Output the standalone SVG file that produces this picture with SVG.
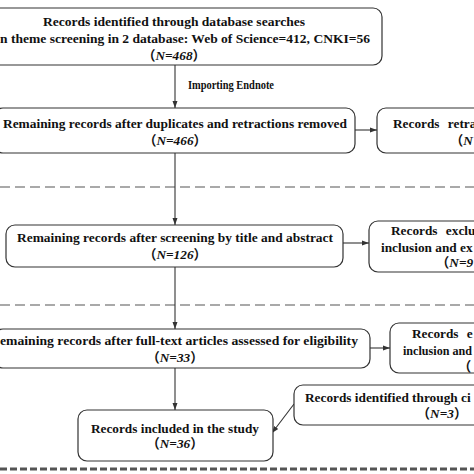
<svg xmlns="http://www.w3.org/2000/svg" width="474" height="474" viewBox="0 0 474 474">
<style>
.box{fill:#fff;stroke:#333;stroke-width:1.2}
.t{font-family:"Liberation Serif","Noto Sans CJK SC",serif;font-weight:bold;font-size:13.3px;fill:#111}
.c{text-anchor:middle}
.i{font-style:italic}
.conn{stroke:#333;stroke-width:1.1;fill:none}
.dash{stroke:#555;stroke-width:1.2;stroke-dasharray:10 5;fill:none}
.dash2{stroke:#555;stroke-width:3;stroke-dasharray:7 3;fill:none}
</style>
<defs>
<marker id="ah" markerWidth="8" markerHeight="8" refX="7" refY="4" orient="auto" markerUnits="userSpaceOnUse">
<path d="M0,1.5 L7,4 L0,6.5 Z" fill="#333"/>
</marker>
</defs>
<rect width="474" height="474" fill="#fff"/>
<g id="separators">
<line class="dash" x1="0" y1="187" x2="474" y2="187"/>
<line class="dash" x1="0" y1="305" x2="474" y2="305"/>
<line class="dash2" x1="0" y1="469" x2="474" y2="469"/>
</g>
<g id="connectors">
<line class="conn" x1="175" y1="65" x2="175" y2="108" marker-end="url(#ah)"/>
<line class="conn" x1="175" y1="153" x2="175" y2="225" marker-end="url(#ah)"/>
<line class="conn" x1="175" y1="267" x2="175" y2="329" marker-end="url(#ah)"/>
<line class="conn" x1="175" y1="368" x2="175" y2="410" marker-end="url(#ah)"/>
<line class="conn" x1="355" y1="130" x2="377" y2="130" marker-end="url(#ah)"/>
<line class="conn" x1="343" y1="243" x2="369" y2="243" marker-end="url(#ah)"/>
<line class="conn" x1="370" y1="348" x2="390" y2="348" marker-end="url(#ah)"/>
<line class="conn" x1="294" y1="404" x2="272" y2="433" marker-end="url(#ah)"/>
<text class="t" x="188" y="89" font-size="10" textLength="86" lengthAdjust="spacingAndGlyphs">Importing Endnote</text>
</g>
<g id="n1">
<rect class="box" x="-10" y="8" width="392" height="57" rx="9"/>
<text class="t c" x="174" y="25.5" textLength="262" lengthAdjust="spacingAndGlyphs">Records identified through database searches</text>
<text class="t" x="0" y="42.5" textLength="370" lengthAdjust="spacingAndGlyphs">n theme screening in 2 database: Web of Science=412, CNKI=56</text>
<text class="t c" x="174" y="59.5">（<tspan class="i">N=468</tspan>）</text>
</g>
<g id="n2">
<rect class="box" x="-6" y="108" width="361" height="45" rx="9"/>
<text class="t c" x="175" y="127.5" textLength="344" lengthAdjust="spacingAndGlyphs">Remaining records after duplicates and retractions removed</text>
<text class="t c" x="175" y="144.5">（<tspan class="i">N=466</tspan>）</text>
</g>
<g id="n3">
<rect class="box" x="377" y="108" width="120" height="45" rx="9"/>
<text class="t" x="393" y="127.5" word-spacing="5">Records retra</text>
<text class="t" x="450" y="144.5">（<tspan class="i">N</tspan></text>
</g>
<g id="n4">
<rect class="box" x="6" y="225" width="337" height="42" rx="9"/>
<text class="t c" x="175" y="242" textLength="316" lengthAdjust="spacingAndGlyphs">Remaining records after screening by title and abstract</text>
<text class="t c" x="175" y="259">（<tspan class="i">N=126</tspan>）</text>
</g>
<g id="n5">
<rect class="box" x="369" y="221" width="130" height="51" rx="9"/>
<text class="t" x="391" y="234.5" word-spacing="5">Records exclu</text>
<text class="t" x="381" y="251.5">inclusion and ex</text>
<text class="t" x="436" y="266.5">（<tspan class="i">N=9</tspan></text>
</g>
<g id="n6">
<rect class="box" x="-6" y="329" width="376" height="39" rx="9"/>
<text class="t" x="0" y="344.5" textLength="358" lengthAdjust="spacingAndGlyphs">emaining records after full-text articles assessed for eligibility</text>
<text class="t c" x="175" y="361.5">（<tspan class="i">N=33</tspan>）</text>
</g>
<g id="n7">
<rect class="box" x="390" y="323" width="110" height="50" rx="9"/>
<text class="t" x="412" y="337.5" word-spacing="5">Records e</text>
<text class="t" x="403" y="354.5" textLength="69" lengthAdjust="spacingAndGlyphs">inclusion and</text>
<text class="t" x="458" y="370.5">（</text>
</g>
<g id="n8">
<rect class="box" x="294" y="385" width="200" height="40" rx="9"/>
<text class="t" x="305" y="401.5">Records identified through ci</text>
<text class="t c" x="442" y="417.5">（<tspan class="i">N=3</tspan>）</text>
</g>
<g id="n9">
<rect class="box" x="78" y="410" width="195" height="51" rx="9"/>
<text class="t c" x="175" y="432.5" textLength="168" lengthAdjust="spacingAndGlyphs">Records included in the study</text>
<text class="t c" x="175" y="447.5">（<tspan class="i">N=36</tspan>）</text>
</g>
</svg>
